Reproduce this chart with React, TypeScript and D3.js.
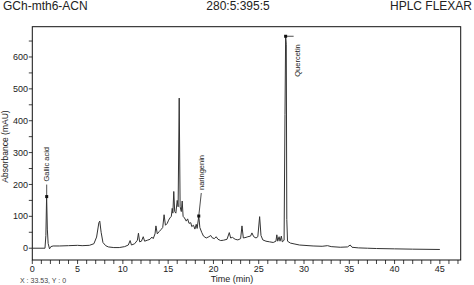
import React from "react";
import * as d3 from "d3";

const times: number[] = [
  0, 1.4, 1.5, 1.58, 1.66, 1.75, 1.9, 2.05, 2.3, 3, 4, 5, 5.5, 6.3, 6.8, 7.1, 7.35, 7.45, 7.6, 7.8,
  8.1, 8.4, 9, 9.6, 10.2, 10.6, 10.8, 10.95, 11.3, 11.6, 11.72, 11.85, 12.05, 12.25, 12.4, 12.7,
  13.0, 13.2, 13.35, 13.55, 13.65, 13.8, 14.0, 14.2, 14.4, 14.55, 14.7, 14.9, 15.05, 15.2, 15.35,
  15.45, 15.52, 15.62, 15.72, 15.85, 16.0, 16.1, 16.22, 16.32, 16.45, 16.55, 16.65, 16.8, 17.0,
  17.15, 17.3, 17.5, 17.6, 17.8, 17.95, 18.1, 18.2, 18.38, 18.5, 18.7, 18.9, 19.2, 19.5, 19.7,
  19.85, 20.1, 20.3, 20.5, 20.8, 21.1, 21.5, 21.75, 21.9, 22.1, 22.4, 22.7, 23.0, 23.15, 23.3,
  23.6, 23.8, 24.1, 24.25, 24.45, 24.7, 24.9, 25.1, 25.25, 25.45, 25.8, 26.2, 26.6, 26.9, 27.0,
  27.1, 27.25, 27.35, 27.5, 27.6, 27.8, 27.9, 27.97, 28.04, 28.1, 28.18, 28.5, 29, 29.5, 30, 31,
  32, 32.6, 33, 34, 34.8, 35.1, 35.3, 36, 37, 38, 40, 42, 45,
];

const absorbance: number[] = [
  0, 0, 40, 165, 60, 15, -2, 5, 7, 7, 8, 9, 8, 9, 14, 35, 80, 85, 50, 18,
  8, 4, 2, 2, 5, 10, 24, 10, 14, 25, 47, 20, 22, 36, 22, 25,
  28, 35, 30, 45, 70, 45, 52, 58, 65, 105, 72, 78, 88, 95, 100,
  125, 110, 178, 115, 110, 150, 130, 471, 130, 115, 148, 100, 95, 85,
  92, 78, 80, 68, 72, 60, 75, 62, 101, 65, 50, 38, 32, 36, 40,
  33, 30, 36, 28, 24, 25, 28, 49, 32, 34, 28, 26, 30, 70, 32,
  34, 36, 38, 48, 36, 32, 36, 99, 40, 26, 22, 20, 18, 22, 42,
  22, 36, 22, 38, 20, 25, 420, 665, 640, 90, 22, 16, 13, 10, 9, 7,
  6, 8, 5, 3, 4, 10, 3, 1, 0, -1, -2, -3, -4,
];

const annotNames: string[] = ["Gallic acid", "naringenin", "Quercetin"];
const annotTimes: number[] = [1.59, 18.38, 27.97];
const annotValues: number[] = [162, 101, 665];

const xLabelTicks: number[] = [0, 5, 10, 15, 20, 25, 30, 35, 40, 45];
const yLabelTicks: number[] = [0, 100, 200, 300, 400, 500, 600];

const titleLeft = "GCh-mth6-ACN";
const titleCenter = "280:5:395:5";
const titleRight = "HPLC FLEXAR";
const xTitle = "Time (min)";
const yTitle = "Absorbance (mAU)";
const cursorText = "X : 33.53, Y : 0";

export default function App() {
  const W = 474;
  const H = 285;
  const left = 32.3;
  const right = 460.7;
  const top = 26.7;
  const bottom = 260;
  const x = d3.scaleLinear().domain([0, 47.3]).range([left, right]);
  const y = d3.scaleLinear().domain([-37, 695]).range([bottom, top]);
  const pts: [number, number][] = times.map((t, i) => [t, absorbance[i]]);
  const line = d3
    .line<[number, number]>()
    .x((d) => x(d[0]))
    .y((d) => y(d[1]));
  const minorX = d3.range(0, 48, 1);
  const minorY = d3.range(0, 651, 50);
  const font = "'Liberation Sans', Arial, sans-serif";
  const ink = "#222";

  return (
    <svg
      width={W}
      height={H}
      style={{ position: "absolute", left: 0, top: 0, background: "#fff" }}
      fontFamily={font}
    >
      <rect x={0} y={0} width={W} height={H} fill="#fff" />
      <text x={3} y={10} fontSize={12} fill={ink}>{titleLeft}</text>
      <text x={238} y={10} fontSize={12} fill={ink} textAnchor="middle">{titleCenter}</text>
      <text x={472} y={10} fontSize={12} fill={ink} textAnchor="end">{titleRight}</text>

      <rect x={left} y={top} width={right - left} height={bottom - top} fill="none" stroke="#111" strokeWidth={1} />

      {minorX.map((t) => (
        <line key={"xt" + t} x1={x(t)} x2={x(t)} y1={bottom} y2={bottom + 4} stroke="#111" strokeWidth={0.8} />
      ))}
      {xLabelTicks.map((t) => (
        <text key={"xl" + t} x={x(t)} y={272} fontSize={9} fill={ink} textAnchor="middle">{t}</text>
      ))}
      {minorY.map((v) => (
        <line key={"yt" + v} x1={left - 3.5} x2={left} y1={y(v)} y2={y(v)} stroke="#111" strokeWidth={0.8} />
      ))}
      {yLabelTicks.map((v) => (
        <text key={"yl" + v} x={28} y={y(v)} dy="0.35em" fontSize={9} fill={ink} textAnchor="end">{v}</text>
      ))}

      <text x={232} y={281.5} fontSize={9} fill={ink} textAnchor="middle">{xTitle}</text>
      <text x={20} y={283} fontSize={7} fill="#444">{cursorText}</text>
      <text
        transform={`translate(5,146.5) rotate(-90)`}
        dy="0.35em"
        fontSize={8.5}
        fill={ink}
        textAnchor="middle"
      >
        {yTitle}
      </text>

      <path d={line(pts) || ""} fill="none" stroke="#333" strokeWidth={1} strokeLinejoin="round" />

      {annotNames.map((name, i) => {
        const px = x(annotTimes[i]);
        const py = y(annotValues[i]);
        if (i === 2) {
          return (
            <g key={name}>
              <line x1={px} x2={px + 8} y1={py} y2={py} stroke="#222" strokeWidth={0.8} />
              <rect x={px - 1.5} y={py - 1.5} width={3} height={3} fill="#111" />
              <text
                transform={`translate(${px + 12},${py + 8}) rotate(-90)`}
                dy="0.35em"
                fontSize={7.5}
                fill={ink}
                textAnchor="end"
              >
                {name}
              </text>
            </g>
          );
        }
        const lineTop = py - (i === 0 ? 12 : 23);
        return (
          <g key={name}>
            <line x1={px} x2={px + (i === 1 ? 2.5 : 0)} y1={py} y2={lineTop} stroke="#222" strokeWidth={0.8} />
            <rect x={px - 1.5} y={py - 1.5} width={3} height={3} fill="#111" />
            <text
              transform={`translate(${px + (i === 1 ? 2.5 : 0)},${lineTop - 3}) rotate(-90)`}
              dy="0.35em"
              fontSize={7.5}
              fill={ink}
              textAnchor="start"
            >
              {name}
            </text>
          </g>
        );
      })}
    </svg>
  );
}
